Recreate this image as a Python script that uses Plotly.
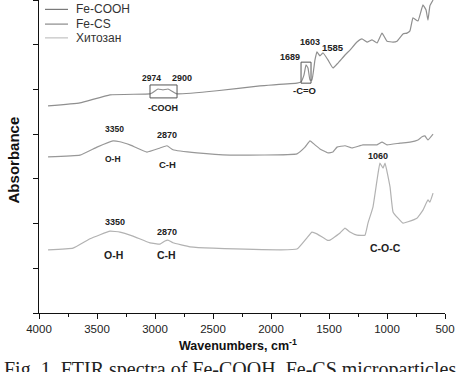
import plotly.graph_objects as go

# ---- data ----
wn_cooh = [3922, 3647, 3388, 3043, 3026, 2974, 2931, 2888, 2828, 2810, 2466, 2095, 1776, 1741, 1716, 1698,
           1681, 1664, 1647, 1621, 1604, 1578, 1552, 1509, 1466, 1423, 1362, 1319, 1259, 1216, 1172, 1129,
           1086, 1043, 1000, 948, 914, 862, 828, 802, 776, 733, 690, 664, 647, 630, 603]
ab_cooh = [4.63, 4.70, 4.88, 4.90, 4.92, 5.01, 4.99, 5.01, 4.92, 4.90, 4.97, 5.08, 5.14, 5.17, 5.32, 5.55,
           5.48, 5.21, 5.21, 5.66, 5.84, 5.75, 5.82, 5.66, 5.48, 5.59, 5.77, 5.88, 6.06, 6.13, 6.06, 6.11,
           6.04, 6.26, 6.08, 6.06, 6.08, 6.24, 6.26, 6.31, 6.60, 6.53, 6.89, 6.78, 6.55, 6.87, 7.00]

wn_cs = [3922, 3647, 3500, 3362, 3302, 3216, 3069, 2957, 2897, 2845, 2638, 2353, 1776, 1707, 1664, 1621,
         1578, 1509, 1466, 1431, 1362, 1302, 1207, 1086, 1043, 1000, 888, 802, 733, 698, 673, 647, 603]
ab_cs = [3.49, 3.53, 3.71, 3.85, 3.83, 3.76, 3.60, 3.69, 3.74, 3.65, 3.58, 3.53, 3.56, 3.71, 3.85, 3.76,
         3.67, 3.58, 3.60, 3.71, 3.74, 3.69, 3.76, 3.76, 3.82, 3.76, 3.80, 3.82, 3.87, 3.94, 3.96, 3.87, 4.00]

wn_chit = [3922, 3707, 3560, 3388, 3302, 3190, 3043, 2957, 2914, 2888, 2845, 2698, 2500, 1776, 1690, 1647,
           1604, 1517, 1492, 1405, 1362, 1319, 1259, 1190, 1164, 1121, 1086, 1061, 1034, 1017, 974, 948,
           905, 862, 819, 742, 690, 647, 630, 603]
ab_chit = [1.41, 1.45, 1.66, 1.83, 1.81, 1.72, 1.57, 1.54, 1.61, 1.63, 1.57, 1.48, 1.45, 1.43, 1.68, 1.81,
           1.77, 1.63, 1.63, 1.79, 1.90, 1.81, 1.74, 1.74, 2.01, 2.37, 2.97, 3.35, 3.24, 3.35, 2.82, 2.26,
           2.12, 2.01, 2.04, 2.12, 2.30, 2.53, 2.48, 2.68]

series_names = ["Fe-COOH", "Fe-CS", "Хитозан"]
series_colors = ["#8f8f8f", "#989898", "#b2b2b2"]
legend_colors = ["#7a7a7a", "#8a8a8a", "#c2c2c2"]

x_ticks = [4000, 3500, 3000, 2500, 2000, 1500, 1000, 500]

# peak labels: (text, wavenumber, absorbance, size)
peak_labels = [
    ("2974", 3026, 5.26, 8.5), ("2900", 2767, 5.26, 9), ("-COOH", 2931, 4.59, 9),
    ("1689", 1836, 5.73, 9), ("1603", 1664, 6.06, 9), ("1585", 1466, 5.93, 9.5), ("-C=O", 1707, 4.97, 9.5),
    ("3350", 3345, 4.12, 8.5), ("2870", 2897, 3.98, 9), ("O-H", 3362, 3.44, 8.5), ("C-H", 2888, 3.33, 9.5),
    ("3350", 3345, 2.04, 9), ("2870", 2897, 1.81, 9), ("O-H", 3362, 1.30, 10.5), ("C-H", 2897, 1.30, 10.5),
    ("1060", 1078, 3.51, 9), ("C-O-C", 1017, 1.45, 10.5),
]
boxes = [(3043, 2810, 4.81, 5.10), (1741, 1655, 5.14, 5.61)]

fig = go.Figure()
for wn, ab, name, col in zip([wn_cooh, wn_cs, wn_chit], [ab_cooh, ab_cs, ab_chit], series_names, series_colors):
    fig.add_trace(go.Scatter(x=wn, y=ab, mode="lines", name=name,
                             line=dict(color=col, width=1.2, shape="spline", smoothing=0.3)))

for t, x, y, s in peak_labels:
    fig.add_annotation(x=x, y=y, text=f"<b>{t}</b>", showarrow=False, xanchor="center", yanchor="middle",
                       font=dict(family="Liberation Sans", size=s, color="#222"))

for x0, x1, y0, y1 in boxes:
    fig.add_shape(type="rect", x0=x0, x1=x1, y0=y0, y1=y1, xref="x", yref="y",
                  line=dict(color="#555", width=1))

# legend (drawn as lines + texts so its row spacing matches)
leg_y = [0.970, 0.923, 0.879]
for name, col, yy in zip(series_names, legend_colors, leg_y):
    fig.add_shape(type="line", xref="paper", yref="paper", x0=0.0148, x1=0.0714, y0=yy, y1=yy,
                  line=dict(color=col, width=1.2))
    fig.add_annotation(xref="paper", yref="paper", x=0.0862, y=yy, xanchor="left", yanchor="middle",
                       text=name, showarrow=False,
                       font=dict(family="Liberation Sans", size=12, color="#333"))

fig.add_annotation(xref="paper", yref="paper", x=0.49, y=-0.102, xanchor="center", yanchor="middle",
                   text="<b>Wavenumbers, cm<sup>-1</sup></b>",
                   showarrow=False, font=dict(family="Liberation Sans", size=12.5, color="#111"))
fig.add_annotation(xref="paper", yref="paper", x=-0.062, y=0.49, xanchor="center", yanchor="middle",
                   text="<b>Absorbance</b>", textangle=-90,
                   showarrow=False, font=dict(family="Liberation Sans", size=15, color="#111"))
fig.add_annotation(xref="paper", yref="paper", x=-0.091, y=-0.137, xanchor="left", yanchor="top",
                   text="Fig. 1. FTIR spectra of Fe-COOH, Fe-CS microparticles", showarrow=False,
                   font=dict(family="Liberation Serif", size=20, color="#222"))

fig.update_layout(
    width=474, height=372,
    margin=dict(l=39, r=29, t=0, b=59),
    paper_bgcolor="white", plot_bgcolor="white",
    font=dict(family="Liberation Sans", color="#222"),
    showlegend=False,
    xaxis=dict(range=[4000, 500], tickvals=x_ticks, ticks="outside", ticklen=5, tickcolor="#111",
               showline=True, linecolor="#111", linewidth=1, showgrid=False, zeroline=False,
               tickfont=dict(size=11.5, color="#222"),
               minor=dict(dtick=250, ticks="outside", ticklen=3, tickcolor="#111")),
    yaxis=dict(range=[0, 7], dtick=1, tick0=0, ticks="outside", ticklen=5, tickcolor="#111",
               showticklabels=False, showline=True, linecolor="#111", linewidth=1,
               showgrid=False, zeroline=False),
)

fig.write_html("out.html", config={"displayModeBar": False},
               post_script="document.body.style.margin='0';document.body.style.overflow='hidden';")
